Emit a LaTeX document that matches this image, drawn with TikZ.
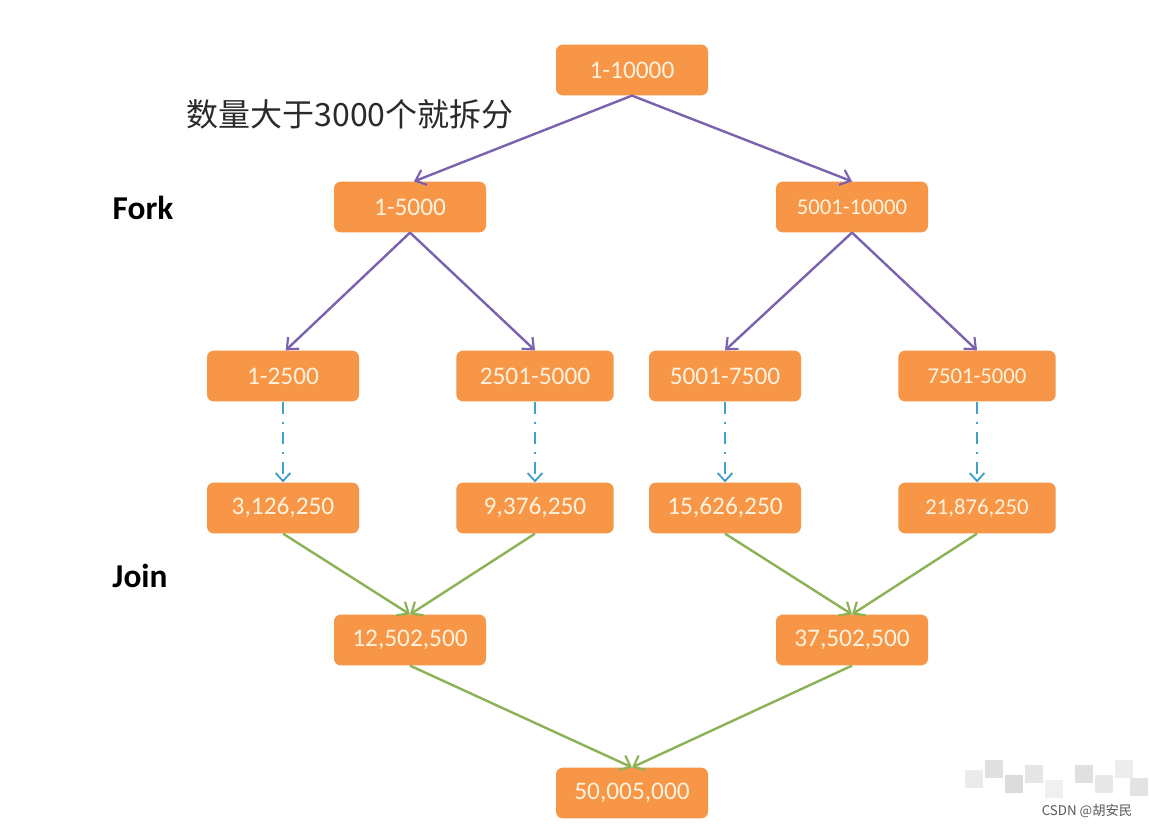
\documentclass[tikz,border=0pt]{standalone}
\usepackage{fontspec}
\setmainfont{Carlito}
\newfontfamily\cjk{Noto Sans CJK SC}
\usetikzlibrary{arrows.meta}
\definecolor{boxorange}{HTML}{F79646}
\definecolor{boxtext}{HTML}{FFF3E0}
\definecolor{forkpurple}{HTML}{7A62AE}
\definecolor{joingreen}{HTML}{8DB255}
\definecolor{dashblue}{HTML}{3FA0C8}
\definecolor{labelgray}{HTML}{2A2A2A}
\tikzset{
  nbox/.style={fill=boxorange, rounded corners=5pt, minimum width=114pt, minimum height=38pt,
    inner sep=0pt, text=boxtext, font=\fontsize{19}{21}\selectfont},
  nboxw/.style={nbox, minimum width=118pt},
  nboxs/.style={nbox, font=\fontsize{17}{19}\selectfont},
  tip/.style={-{Straight Barb[length=7pt,width=12pt,line width=1.6pt]}},
  forkarrow/.style={draw=forkpurple, line width=1.8pt, tip},
  joinarrow/.style={draw=joingreen, line width=1.8pt, tip},
  dasharrow/.style={draw=dashblue, line width=1.9pt, dash pattern=on 9pt off 6pt on 1.8pt off 6pt,
    -{Straight Barb[length=6pt,width=11pt,line width=1.4pt]}},
  sidelabel/.style={font=\bfseries\fontsize{25}{28}\selectfont, text=black},
}
\begin{document}
\begin{tikzpicture}[x=0.75pt,y=-0.75pt]
\fill[white] (0,0) rectangle (1149,829);
\useasboundingbox (0,0) rectangle (1149,829);

% level 0
\node[nbox] (n0) at (632,70) {1-10000};
% level 1
\node[nbox] (n1) at (410,207) {1-5000};
\node[nboxs] (n2) at (852,207) {5001-10000};
% level 2
\node[nbox] (a1) at (283,376) {1-2500};
\node[nboxw] (a2) at (535,376) {2501-5000};
\node[nbox] (a3) at (725,376) {5001-7500};
\node[nboxw, font=\fontsize{17}{19}\selectfont] (a4) at (977,376) {7501-5000};
% level 3
\node[nbox] (b1) at (283,508) {3,126,250};
\node[nboxw] (b2) at (535,508) {9,376,250};
\node[nbox] (b3) at (725,508) {15,626,250};
\node[nboxw, font=\fontsize{17}{19}\selectfont] (b4) at (977,508) {21,876,250};
% level 4
\node[nbox] (c1) at (410,640) {12,502,500};
\node[nbox] (c2) at (852,640) {37,502,500};
% level 5
\node[nbox] (d0) at (632,793) {50,005,000};

% labels
\node[font=\cjk\fontsize{24}{26}\selectfont, text=labelgray] (t0) at (350,114) {数量大于3000个就拆分};
\node[sidelabel] (fork) at (143,208) {Fork};
\node[sidelabel] (join) at (140,576) {Join};

% fork arrows
\draw[forkarrow] (n0.south) -- ([xshift=3pt]n1.north);
\draw[forkarrow] (n0.south) -- (n2.north);
\draw[forkarrow] (n1.south) -- ([xshift=2pt]a1.north);
\draw[forkarrow] (n1.south) -- (a2.north);
\draw[forkarrow] (n2.south) -- (a3.north);
\draw[forkarrow] (n2.south) -- (a4.north);

% compute arrows
\draw[dasharrow] (a1.south) -- (b1.north);
\draw[dasharrow] (a2.south) -- (b2.north);
\draw[dasharrow] (a3.south) -- (b3.north);
\draw[dasharrow] (a4.south) -- (b4.north);

% join arrows
\draw[joinarrow] (b1.south) -- (c1.north);
\draw[joinarrow] (b2.south) -- (c1.north);
\draw[joinarrow] (b3.south) -- (c2.north);
\draw[joinarrow] (b4.south) -- (c2.north);
\draw[joinarrow] (c1.south) -- (d0.north);
\draw[joinarrow] (c2.south) -- (d0.north);

% watermark
\foreach \x/\y/\g in {965/770/8,985/760/12,1005/775/14,1025/765/10,1045/780/6,1075/765/12,1095/775/9,1115/760/7,1130/778/11}{
  \fill[black!\g] (\x,\y) rectangle ++(18,18);
}
\node[font=\cjk\fontsize{10}{12}\selectfont, text=black!65, anchor=east] (wm) at (1137,811) {CSDN @胡安民};
\end{tikzpicture}
\end{document}
